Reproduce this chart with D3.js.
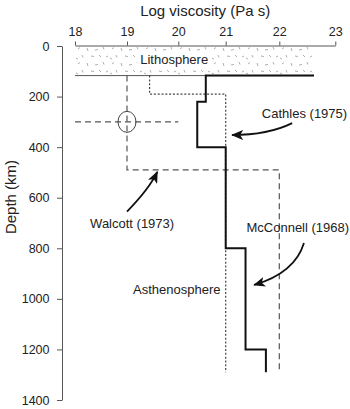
<!DOCTYPE html>
<html>

<head>
	<meta charset='utf-8'>
	<title>Viscosity profiles</title>
	<script type='text/javascript' src='https://cdn.jsdelivr.net/npm/d3@7'></script>
	<style>
		body { margin: 0; background: #fff; }
		text { font-family: 'Liberation Sans', Arial, sans-serif; }
	</style>
</head>

<body>
	<svg width='350' height='409'></svg>
	<script>
		// tick values
		const viscTicks = [18, 19, 20, 21, 22, 23]
		const depthTicks = [0, 200, 400, 600, 800, 1000, 1200, 1400]

		// lithosphere slab: [viscosity from, to] x [depth from, to]
		const lithoVisc = [18, 22.62]
		const lithoDepth = [0, 117]

		// viscosity profiles, [log viscosity, depth km]
		const mcconnell = [[22.62, 117], [20.58, 117], [20.58, 220], [20.4, 220], [20.4, 400], [21, 400],
			[21, 800], [21.37, 800], [21.37, 1200], [21.75, 1200], [21.75, 1290]]
		const cathles = [[19.44, 117], [19.44, 190], [21, 190], [21, 1290]]
		const walcott = [[19, 117], [19, 490], [22, 490], [22, 1290]]
		const walcottBar = [[18, 300], [20, 300]]
		const walcottPoint = [19, 300]

		// annotation labels and arrows (tail, control, tip)
		const labels = [
			{ text: 'Lithosphere', v: 19.92, d: 73 },
			{ text: 'Cathles (1975)', v: 22.45, d: 285 },
			{ text: 'Walcott (1973)', v: 19.1, d: 720 },
			{ text: 'McConnell (1968)', v: 22.33, d: 736 },
			{ text: 'Asthenosphere', v: 19.97, d: 981 }
		]
		const arrows = [
			[[22.23, 305], [21.79, 352], [21.12, 352]],
			[[19.0, 655], [19.44, 563], [19.59, 498]],
			[[22.44, 779], [22.28, 897], [21.53, 945]]
		]

		const svg = d3.select('svg')

		// hand drawn axis: ticks are not evenly spaced
		const x = d3.scaleLinear()
			.domain(viscTicks)
			.range([75, 127, 178.3, 225.7, 279.3, 335.3])
		const y = d3.scaleLinear()
			.domain([0, 1400])
			.range([46, 400])

		// stipple texture for the lithosphere
		const defs = svg.append('defs')
		const pat = defs.append('pattern')
			.attr('id', 'stipple')
			.attr('patternUnits', 'userSpaceOnUse')
			.attr('x', 75).attr('y', 46)
			.attr('width', 34).attr('height', 15)
		const strokes = [[3, 3, 5, 1.5], [12, 2, 13, 5], [20, 4, 23, 3.5], [28, 1, 29, 3.5],
			[7, 9, 8, 11.5], [16, 10, 19, 10.5], [24, 9, 26, 11], [31, 11, 33, 10], [1, 12, 3, 13]]
		pat.selectAll('line').data(strokes).join('line')
			.attr('x1', d => d[0]).attr('y1', d => d[1])
			.attr('x2', d => d[2]).attr('y2', d => d[3])
			.attr('stroke', '#999').attr('stroke-width', 0.8)

		defs.append('marker')
			.attr('id', 'head')
			.attr('markerUnits', 'userSpaceOnUse')
			.attr('viewBox', '0 0 12 10')
			.attr('refX', 11).attr('refY', 5)
			.attr('markerWidth', 12).attr('markerHeight', 10)
			.attr('orient', 'auto')
			.append('path')
			.attr('d', 'M0,0 L12,5 L0,10 L3,5 Z')
			.attr('fill', '#111')

		// lithosphere box
		svg.append('rect')
			.attr('x', x(lithoVisc[0])).attr('y', y(lithoDepth[0]))
			.attr('width', x(lithoVisc[1]) - x(lithoVisc[0]))
			.attr('height', y(lithoDepth[1]) - y(lithoDepth[0]))
			.attr('fill', 'url(#stipple)')
		svg.append('line')
			.attr('x1', x(lithoVisc[0])).attr('x2', x(lithoVisc[1]))
			.attr('y1', y(lithoDepth[1])).attr('y2', y(lithoDepth[1]))
			.attr('stroke', '#555').attr('stroke-width', 1)

		// axes
		const xAxis = d3.axisTop(x).tickValues(viscTicks).tickFormat(d3.format('d'))
			.tickSize(4).tickSizeOuter(0).tickPadding(6)
		const yAxis = d3.axisLeft(y).tickValues(depthTicks).tickFormat(d3.format('d'))
			.tickSize(5).tickSizeOuter(0).tickPadding(7.5)

		const gx = svg.append('g').attr('transform', `translate(0,${y(0) - 0.5})`).call(xAxis)
		const gy = svg.append('g').attr('transform', 'translate(62,0)').call(yAxis)
		for (const g of [gx, gy]) {
			g.selectAll('path, line').attr('stroke', '#555')
			g.selectAll('text').attr('font-size', 12.5).attr('fill', '#222')
				.attr('font-family', "'Liberation Sans', Arial, sans-serif")
		}

		svg.append('text')
			.attr('x', (x(18) + x(23)) / 2).attr('y', 15.5)
			.attr('text-anchor', 'middle').attr('font-size', 15).attr('fill', '#222')
			.text('Log viscosity (Pa s)')
		svg.append('text')
			.attr('transform', `translate(16,197) rotate(-90)`)
			.attr('text-anchor', 'middle').attr('font-size', 15).attr('fill', '#222')
			.text('Depth (km)')

		const line = d3.line().x(d => x(d[0])).y(d => y(d[1]))

		// Walcott (1973)
		svg.append('path').datum(walcott).attr('d', line)
			.attr('fill', 'none').attr('stroke', '#555').attr('stroke-width', 1.2)
			.attr('stroke-dasharray', '6,4')
		svg.append('path').datum(walcottBar).attr('d', line)
			.attr('fill', 'none').attr('stroke', '#555').attr('stroke-width', 1.2)
			.attr('stroke-dasharray', '6,4')
		svg.append('ellipse')
			.attr('cx', x(walcottPoint[0])).attr('cy', y(walcottPoint[1]))
			.attr('rx', 9).attr('ry', 10.5)
			.attr('fill', 'none').attr('stroke', '#444').attr('stroke-width', 1)

		// Cathles (1975)
		svg.append('path').datum(cathles).attr('d', line)
			.attr('fill', 'none').attr('stroke', '#444').attr('stroke-width', 1.2)
			.attr('stroke-dasharray', '2,1.8')

		// McConnell (1968)
		svg.append('path').datum(mcconnell).attr('d', line)
			.attr('fill', 'none').attr('stroke', '#111').attr('stroke-width', 2)

		// labels
		const lab = svg.append('g').selectAll('text').data(labels).join('text')
			.attr('x', d => x(d.v)).attr('y', d => y(d.d))
			.attr('text-anchor', 'middle').attr('font-size', 13).attr('fill', '#222')
			.text(d => d.text)
		// clear the stipple behind the lithosphere label
		const lt = lab.filter(d => d.text === 'Lithosphere').node().getBBox()
		svg.insert('rect', 'g')
			.attr('x', lt.x - 3).attr('y', lt.y + 1)
			.attr('width', lt.width + 6).attr('height', lt.height - 2)
			.attr('fill', '#fff')

		// arrows
		svg.append('g').selectAll('path').data(arrows).join('path')
			.attr('d', d => `M${x(d[0][0])},${y(d[0][1])} Q${x(d[1][0])},${y(d[1][1])} ${x(d[2][0])},${y(d[2][1])}`)
			.attr('fill', 'none').attr('stroke', '#111').attr('stroke-width', 1.8)
			.attr('marker-end', 'url(#head)')
	</script>
</body>

</html>
